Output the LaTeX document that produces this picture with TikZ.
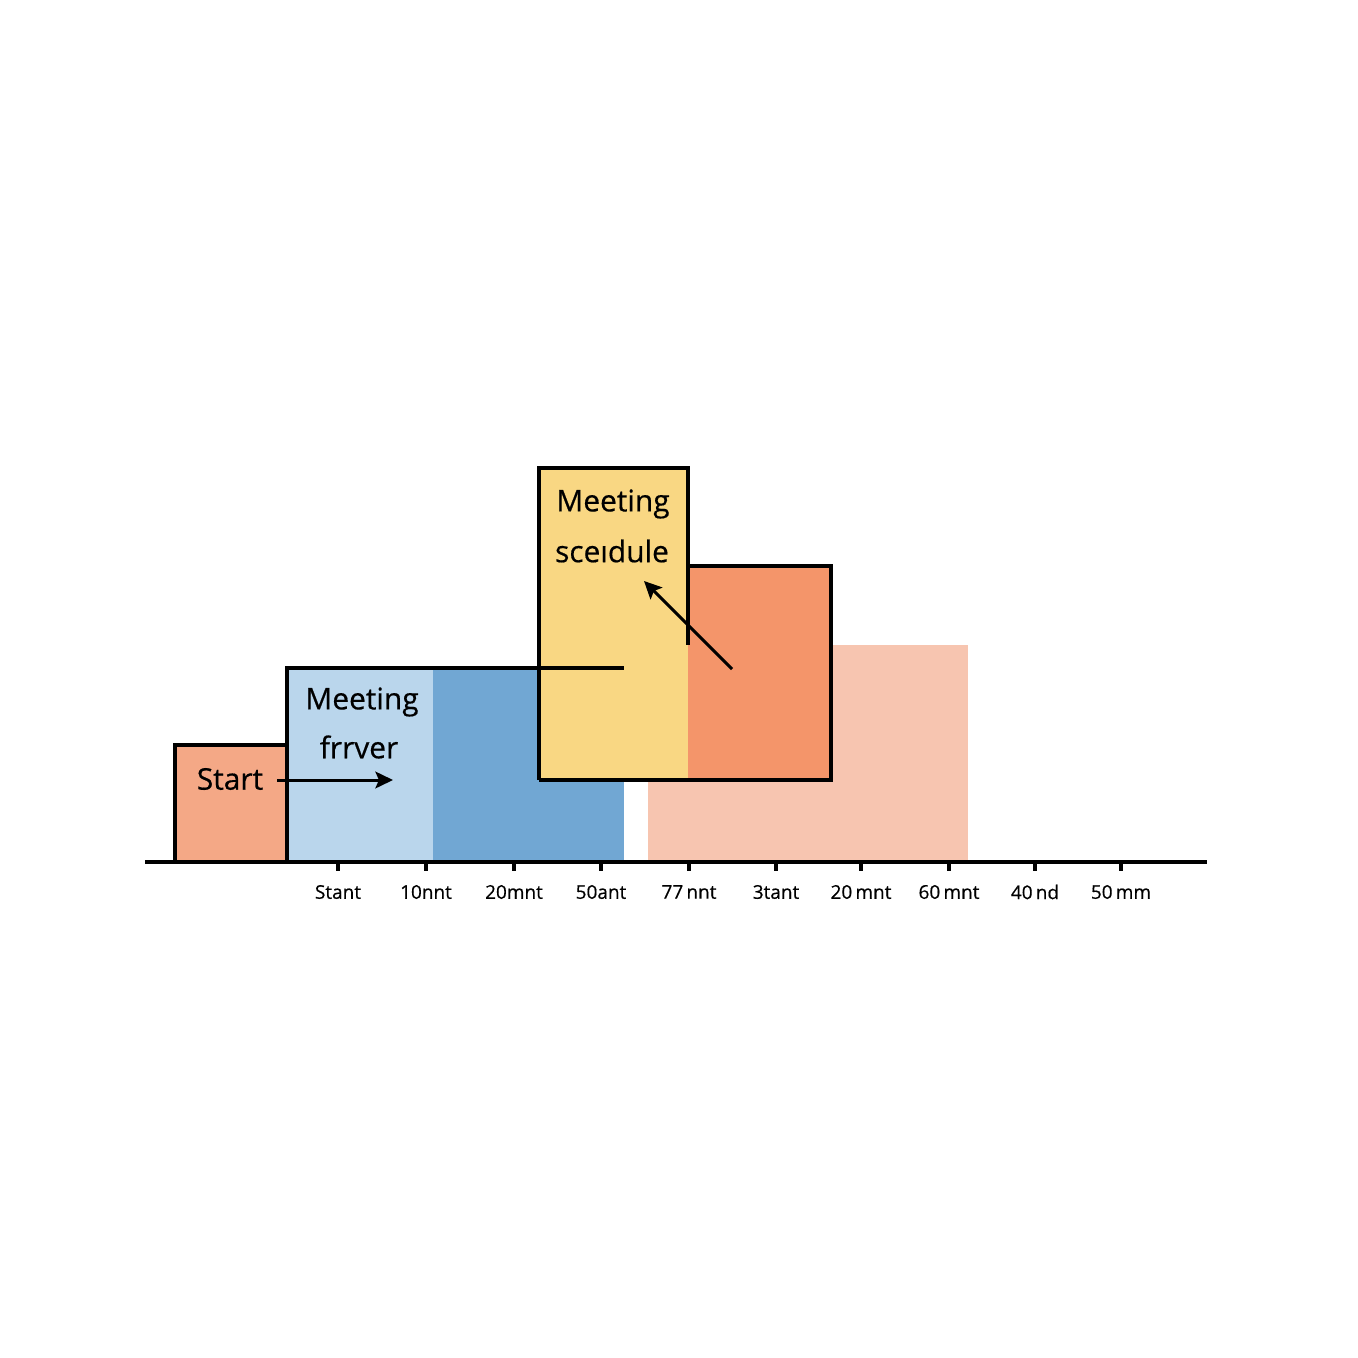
\documentclass[tikz,border=0pt]{standalone}
\usepackage{fontspec}
\setmainfont{Open Sans}[FakeBold=0.5]
\usetikzlibrary{arrows.meta}
\definecolor{startc}{HTML}{F4A886}
\definecolor{lblue}{HTML}{BAD6EC}
\definecolor{dblue}{HTML}{71A7D3}
\definecolor{yel}{HTML}{F9D783}
\definecolor{oran}{HTML}{F4956A}
\definecolor{pink}{HTML}{F7C5B0}
\tikzset{
  edge/.style={line width=2.2pt, black},
  conn/.style={line width=1.7pt, -{Stealth[length=10pt,width=9.5pt,inset=2pt]}},
  boxlbl/.style={font=\fontsize{17}{20}\selectfont, inner sep=0pt},
  axlbl/.style={font=\fontsize{10.8}{12}\selectfont, inner sep=0pt},
  tick/.style={line width=1.8pt}
}
\begin{document}
\begin{tikzpicture}[x=0.02cm,y=-0.02cm]
\useasboundingbox (0,0) rectangle (1358,1358);
\fill[white] (0,0) rectangle (1358,1358);
% fills
\fill[pink] (648,645) rectangle (968,861);
\fill[lblue] (287,668) rectangle (433,861);
\fill[dblue] (433,668) rectangle (624,861);
\fill[startc] (175,745) rectangle (287,861);
\fill[yel] (539,468) rectangle (688,780);
\fill[oran] (688,566) rectangle (831,780);
% outlines
\draw[edge] (175,862) -- (175,745) -- (287,745);
\draw[edge] (287,862) -- (287,668) -- (624,668);
\draw[edge] (539,780) -- (539,468) -- (688,468) -- (688,645);
\draw[edge] (688,566) -- (831,566) -- (831,780) -- (539,780);
% axis
\draw[line width=2.2pt] (145,862) -- (1207,862);
\foreach \x/\t [count=\i] in {338/Stant,426/10nnt,514/20mnt,601/50ant,689/77\,nnt,776/3tant,861/20\,mnt,949/60\,mnt,1035/40\,nd,1121/50\,mm}{
  \draw[tick] (\x,862) -- (\x,871);
  \node[axlbl] (ax\i) at (\x,892) {\t};
}
% labels
\node[boxlbl] (start) at (230,779) {Start};
\node[boxlbl] (mf1) at (362,702) {Meeting};
\node[boxlbl] (mf2) at (359,747) {frrver};
\node[boxlbl] (ms1) at (613,504) {Meeting};
\node[boxlbl] (ms2) at (612,551) {sceıdule};
% arrows
\coordinate (a1s) at (277,780);
\coordinate (a1e) at (393,780);
\coordinate (a2s) at (732,669);
\coordinate (a2e) at (644,581);
\draw[conn] (a1s) -- (a1e);
\draw[conn] (a2s) -- (a2e);
\end{tikzpicture}
\end{document}
